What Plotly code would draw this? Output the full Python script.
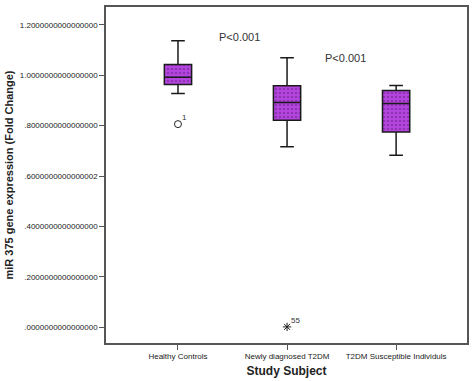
import plotly.graph_objects as go

categories = ["Healthy Controls", "Newly diagnosed T2DM", "T2DM Susceptible Individuls"]
upper = [1.137, 1.070, 0.959]
q3 = [1.043, 0.958, 0.939]
median = [0.992, 0.892, 0.888]
q1 = [0.963, 0.821, 0.775]
lower = [0.928, 0.716, 0.682]

outlier_cat = ["Healthy Controls", "Newly diagnosed T2DM"]
outlier_val = [0.806, 0.001]
outlier_lbl = ["1", "55"]
outlier_sym = ["circle-open", "asterisk-open"]

ytick_vals = [0.0, 0.2, 0.4, 0.6, 0.8, 1.0, 1.2]
ytick_text = [".0000000000000000", ".2000000000000000", ".4000000000000000",
              ".6000000000000002", ".8000000000000000", "1.0000000000000000",
              "1.2000000000000000"]

pval_x = [0.56, 1.54]
pval_y = [1.152, 1.067]
pval_text = ["P<0.001", "P<0.001"]

fig = go.Figure()
# textured fill of each box (interquartile range)
fig.add_trace(go.Bar(
    x=categories, base=q1, y=[a - b for a, b in zip(q3, q1)], width=0.25,
    marker=dict(color="#B545E0", line=dict(width=0),
                pattern=dict(shape=".", fgcolor="#6a2188", size=4, solidity=0.35)),
    showlegend=False, hoverinfo="skip",
))
fig.add_trace(go.Box(
    x=categories, q1=q1, median=median, q3=q3,
    lowerfence=lower, upperfence=upper,
    fillcolor="rgba(0,0,0,0)", line=dict(color="#1a1a1a", width=1.5),
    width=0.25, whiskerwidth=0.5, boxpoints=False, showlegend=False,
    hoverinfo="skip",
))
fig.add_trace(go.Scatter(
    x=outlier_cat, y=outlier_val, mode="markers",
    marker=dict(symbol=outlier_sym, size=7, color="#222", line=dict(width=1, color="#222")),
    showlegend=False,
))
for c, v, t in zip(outlier_cat, outlier_val, outlier_lbl):
    fig.add_annotation(x=c, y=v, text=t, showarrow=False, xanchor="left", yanchor="bottom",
                       xshift=2, yshift=0, font=dict(size=8, color="#333", family="Liberation Sans"))
for x, y, t in zip(pval_x, pval_y, pval_text):
    fig.add_annotation(x=x, y=y, text=t, showarrow=False, xref="x", yref="y",
                       font=dict(size=11, color="#333", family="Liberation Sans"))

fig.update_layout(
    width=474, height=381,
    margin=dict(l=106, r=7, t=5, b=38),
    paper_bgcolor="white", plot_bgcolor="white",
    font=dict(family="Liberation Sans", color="#222"),
    xaxis=dict(
        type="category", categoryorder="array", categoryarray=categories,
        range=[-0.66, 2.65], showgrid=False, zeroline=False,
        showline=True, linecolor="#555", linewidth=1.5, mirror=True,
        ticks="outside", ticklen=5, tickcolor="#555",
        tickfont=dict(size=8, color="#222"),
        title=dict(text="<b>Study Subject</b>", font=dict(size=12, color="#222"), standoff=6),
    ),
    yaxis=dict(
        range=[-0.063, 1.271], showgrid=False, zeroline=False,
        showline=True, linecolor="#555", linewidth=1.5, mirror=True,
        ticks="outside", ticklen=5, tickcolor="#555",
        tickvals=ytick_vals, ticktext=ytick_text,
        tickfont=dict(size=8, color="#222"),
        title=dict(text="<b>miR 375 gene expression (Fold Change)</b>", font=dict(size=11, color="#222"), standoff=4),
    ),
)
fig.write_html("out.html", config={"displayModeBar": False},
               post_script="document.body.style.margin='0';")
